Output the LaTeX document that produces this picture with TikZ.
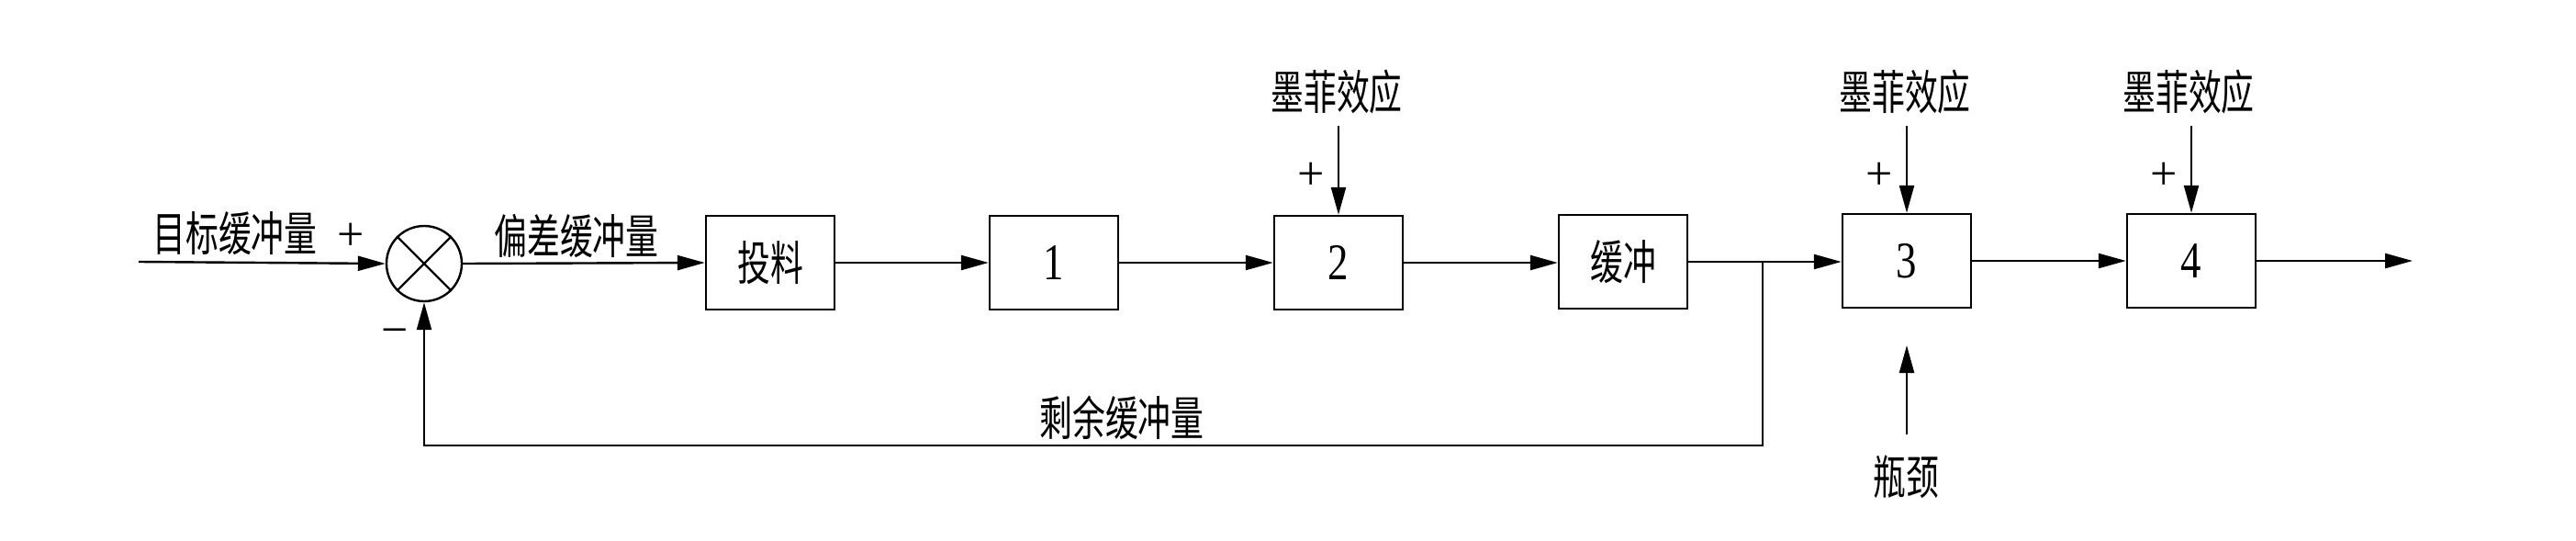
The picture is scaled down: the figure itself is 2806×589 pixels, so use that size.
\documentclass[tikz,border=0pt]{standalone}
\usepackage{fontspec}
\usetikzlibrary{arrows.meta}
\newfontfamily\cjk[FakeStretch=0.7]{Noto Sans CJK SC}
\newfontfamily\serifnum[FakeStretch=0.8]{Liberation Serif}
\newfontfamily\serifsgn{Liberation Serif}
\begin{document}
\begin{tikzpicture}[x=0.25pt,y=-0.25pt,
  line width=0.6pt,
  >={Triangle[length=7.5pt,width=4pt]},
  blk/.style={draw,minimum width=35pt,minimum height=25.5pt,inner sep=0pt},
  lbl/.style={font=\cjk\fontsize{12.8pt}{15pt}\selectfont,inner sep=0pt},
  num/.style={font=\serifnum\fontsize{14pt}{16pt}\selectfont},
  sgn/.style={font=\serifsgn\fontsize{13pt}{15pt}\selectfont,inner sep=0pt}]
\useasboundingbox (0,0) rectangle (2806,589);
% nodes
\coordinate (in) at (151,285);
\node[draw,circle,minimum size=20.5pt,inner sep=0pt] (sum) at (462,287) {};
\draw (sum.45) -- (sum.225) (sum.135) -- (sum.315);
\node[blk,lbl] (tl) at (839,286) {投料};
\node[blk,num] (b1) at (1148,286) {1};
\node[blk,num] (b2) at (1458,286) {2};
\node[blk,lbl] (bf) at (1768,285) {缓冲};
\node[blk,num] (b3) at (2077,284) {3};
\node[blk,num] (b4) at (2387,284) {4};
\coordinate (out) at (2628,284);
\coordinate (tap) at (1920,285);
\coordinate (fb1) at (1920,485);
\coordinate (fb2) at (462,485);
% labels
\node[lbl] at (256,254) {目标缓冲量};
\node[sgn] at (382,258) {+};
\node[lbl] at (628,257) {偏差缓冲量};
\node[sgn] at (430,367) {−};
\node[lbl] at (1222,455) {剩余缓冲量};
\node[lbl] (m2) at (1456,100) {墨菲效应};
\node[lbl] (m3) at (2075,100) {墨菲效应};
\node[lbl] (m4) at (2384,100) {墨菲效应};
\node[sgn] at (1428,192) {+};
\node[sgn] at (2047,192) {+};
\node[sgn] at (2357,192) {+};
\node[lbl] (bn) at (2076,519) {瓶颈};
\coordinate (bnA) at (2077,473);
\coordinate (bnB) at (2077,376);
\coordinate (d2) at (1458,137);
\coordinate (d3) at (2077,137);
\coordinate (d4) at (2387,137);
% connectors
\draw[->] (in) -- (sum.west);
\draw[->] (sum.east) -- (tl.west);
\draw[->] (tl.east) -- (b1.west);
\draw[->] (b1.east) -- (b2.west);
\draw[->] (b2.east) -- (bf.west |- b2.east);
\draw[->] (bf.east) -- (b3.west |- bf.east);
\draw[->] (b3.east) -- (b4.west);
\draw[->] (b4.east) -- (out);
\draw[->] (tap) -- (fb1) -- (fb2) -- (sum.south);
\draw[->] (d2) -- (b2.north);
\draw[->] (d3) -- (b3.north);
\draw[->] (d4) -- (b4.north);
\draw[->] (bnA) -- (bnB);
\end{tikzpicture}
\end{document}
